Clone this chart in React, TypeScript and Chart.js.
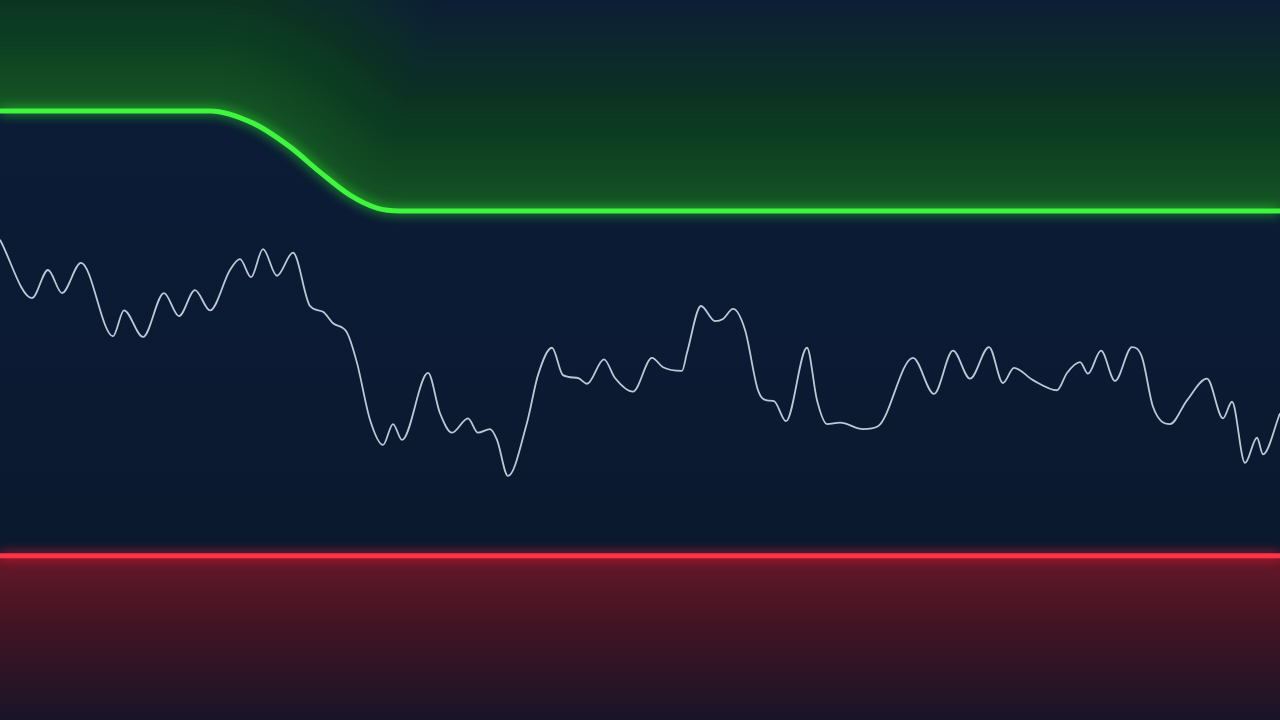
import { useEffect, useRef } from 'react';
import { Chart, registerables } from 'chart.js';

Chart.register(...registerables);

// Time axis (arbitrary units) and oscillator values (0-100 scale)
const time = [
  0, 3.2, 4.8, 6.2, 8.1, 11.3, 12.4, 14.3, 16.4, 17.9, 19.5, 21, 23, 24, 25.1, 26.3, 27.7, 29.3,
  31, 32.3, 33.3, 34.7, 35.7, 37, 38.3, 39.3, 40.2, 42.8, 44, 45.2, 46.8, 47.8, 49, 49.7, 50.8,
  52.7, 53.8, 55.2, 56.3, 57.8, 58.7, 60.4, 61.5, 63.3, 65.2, 66.3, 68.2, 68.7, 70.1, 71.5, 72.3,
  73.3, 74.5, 75.8, 76.7, 77.4, 78.6, 80.7, 81.7, 82.7, 84, 86.3, 87.8, 91.3, 93.4, 95.3, 97,
  98.9, 100.3, 101.4, 103.3, 105.7, 106.7, 108, 108.8, 110.1, 111.5, 113.2, 114.2, 115.3, 117,
  118.7, 120.7, 122.3, 123.2, 124.5, 125.7, 126.3, 128,
];
const oscillator = [
  66.7, 58.6, 62.5, 59.3, 63.5, 53.3, 56.9, 53.2, 59.3, 56.1, 59.7, 56.9, 62.5, 64.0, 61.5, 65.4,
  61.7, 64.9, 57.5, 56.7, 55.1, 53.8, 49.6, 41.7, 38.2, 41.1, 38.9, 48.2, 42.6, 39.9, 41.9, 39.9,
  40.4, 38.9, 33.9, 41.3, 47.9, 51.7, 47.9, 47.5, 46.7, 50.1, 47.5, 45.6, 50.3, 49.0, 48.5, 51.0,
  57.5, 55.4, 55.7, 57.1, 54.2, 45.8, 44.4, 44.3, 41.5, 51.7, 44.4, 41.1, 41.3, 40.4, 40.8, 50.3,
  45.3, 51.3, 47.4, 51.8, 46.8, 48.9, 47.2, 45.8, 48.2, 49.7, 48.1, 51.3, 47.1, 51.8, 50.4, 43.5,
  41.1, 44.4, 47.4, 41.9, 44.2, 35.7, 39.2, 36.9, 42.6,
];

// Upper (green) threshold band
const upperTime = [0, 21, 25.3, 29, 32, 35, 37.7, 40, 128];
const upperLevel = [84.6, 84.6, 82.9, 79.6, 76.1, 72.9, 71.1, 70.7, 70.7];

// Lower (red) threshold band
const lowerTime = [0, 128];
const lowerLevel = [22.8, 22.8];

const toPoints = (xs: number[], ys: number[]) => xs.map((x, i) => ({ x, y: ys[i] }));

const backgroundPlugin = {
  id: 'bg',
  beforeDraw(chart: any) {
    const { ctx, width, height } = chart;
    const g = ctx.createLinearGradient(0, 0, 0, height);
    g.addColorStop(0, '#0c1c38');
    g.addColorStop(0.6, '#0b1a31');
    g.addColorStop(1, '#0a162a');
    ctx.save();
    ctx.fillStyle = g;
    ctx.fillRect(0, 0, width, height);
    ctx.restore();
  },
};

const upperFillPlugin = {
  id: 'upperFill',
  beforeDatasetsDraw(chart: any) {
    const line = chart.getDatasetMeta(0).dataset;
    if (!line) return;
    const { ctx, chartArea: a } = chart;
    ctx.save();
    ctx.beginPath();
    line.path(ctx);
    ctx.lineTo(a.right, a.top);
    ctx.lineTo(a.left, a.top);
    ctx.closePath();
    ctx.clip();
    const N = 46;
    const maxW = 215;
    const Cmax = 0.88;
    let prev = 0;
    ctx.lineJoin = 'round';
    ctx.lineCap = 'butt';
    for (let n = 1; n <= N; n++) {
      const C = (Cmax * n) / N;
      const alpha = 1 - (1 - C) / (1 - prev);
      prev = C;
      const half = (maxW * (N - n + 1)) / N;
      ctx.beginPath();
      line.path(ctx);
      ctx.lineWidth = half * 2;
      ctx.strokeStyle = `rgba(32,102,44,${alpha})`;
      ctx.stroke();
    }
    ctx.restore();
  },
};

const glowPlugin = {
  id: 'glow',
  beforeDatasetDraw(chart: any, args: any) {
    const ds = chart.data.datasets[args.index] as any;
    chart.ctx.save();
    if (ds.glowColor) {
      chart.ctx.shadowColor = ds.glowColor;
      chart.ctx.shadowBlur = ds.glowBlur || 10;
    }
  },
  afterDatasetDraw(chart: any) {
    chart.ctx.restore();
  },
};

export default function App() {
  const ref = useRef<HTMLCanvasElement | null>(null);

  useEffect(() => {
    if (!ref.current) return;
    const chart = new Chart(ref.current, {
      type: 'line',
      data: {
        datasets: [
          {
            data: toPoints(upperTime, upperLevel),
            borderColor: '#40f440',
            borderWidth: 5,
            cubicInterpolationMode: 'monotone',
            pointRadius: 0,
            fill: false,
            glowColor: 'rgba(40,235,40,0.9)',
            glowBlur: 12,
          } as any,
          {
            data: toPoints(lowerTime, lowerLevel),
            borderColor: '#ff3345',
            borderWidth: 5,
            pointRadius: 0,
            fill: 'start',
            glowColor: 'rgba(255,30,50,0.9)',
            glowBlur: 12,
            backgroundColor: (c: any) => {
              const ch = c.chart;
              const a = ch.chartArea;
              if (!a) return '#3a1422';
              const y0 = ch.scales.y.getPixelForValue(lowerLevel[0]);
              const g = ch.ctx.createLinearGradient(0, y0, 0, a.bottom);
              g.addColorStop(0, '#661729');
              g.addColorStop(0.45, '#3f1423');
              g.addColorStop(1, '#191428');
              return g;
            },
          } as any,
          {
            data: toPoints(time, oscillator),
            borderColor: '#bcc8d6',
            borderWidth: 1.8,
            cubicInterpolationMode: 'monotone',
            pointRadius: 0,
            fill: false,
          } as any,
        ],
      },
      options: {
        animation: false,
        responsive: false,
        devicePixelRatio: 1,
        layout: { padding: 0 },
        events: [],
        scales: {
          x: { type: 'linear', min: 0, max: 128, display: false },
          y: { type: 'linear', min: 0, max: 100, display: false },
        },
        plugins: {
          legend: { display: false },
          tooltip: { enabled: false },
        },
      },
      plugins: [backgroundPlugin, upperFillPlugin, glowPlugin],
    });
    return () => chart.destroy();
  }, []);

  return (
    <div style={{ position: 'fixed', left: 0, top: 0, width: 1280, height: 720, overflow: 'hidden' }}>
      <canvas ref={ref} width={1280} height={720} style={{ display: 'block' }} />
    </div>
  );
}
